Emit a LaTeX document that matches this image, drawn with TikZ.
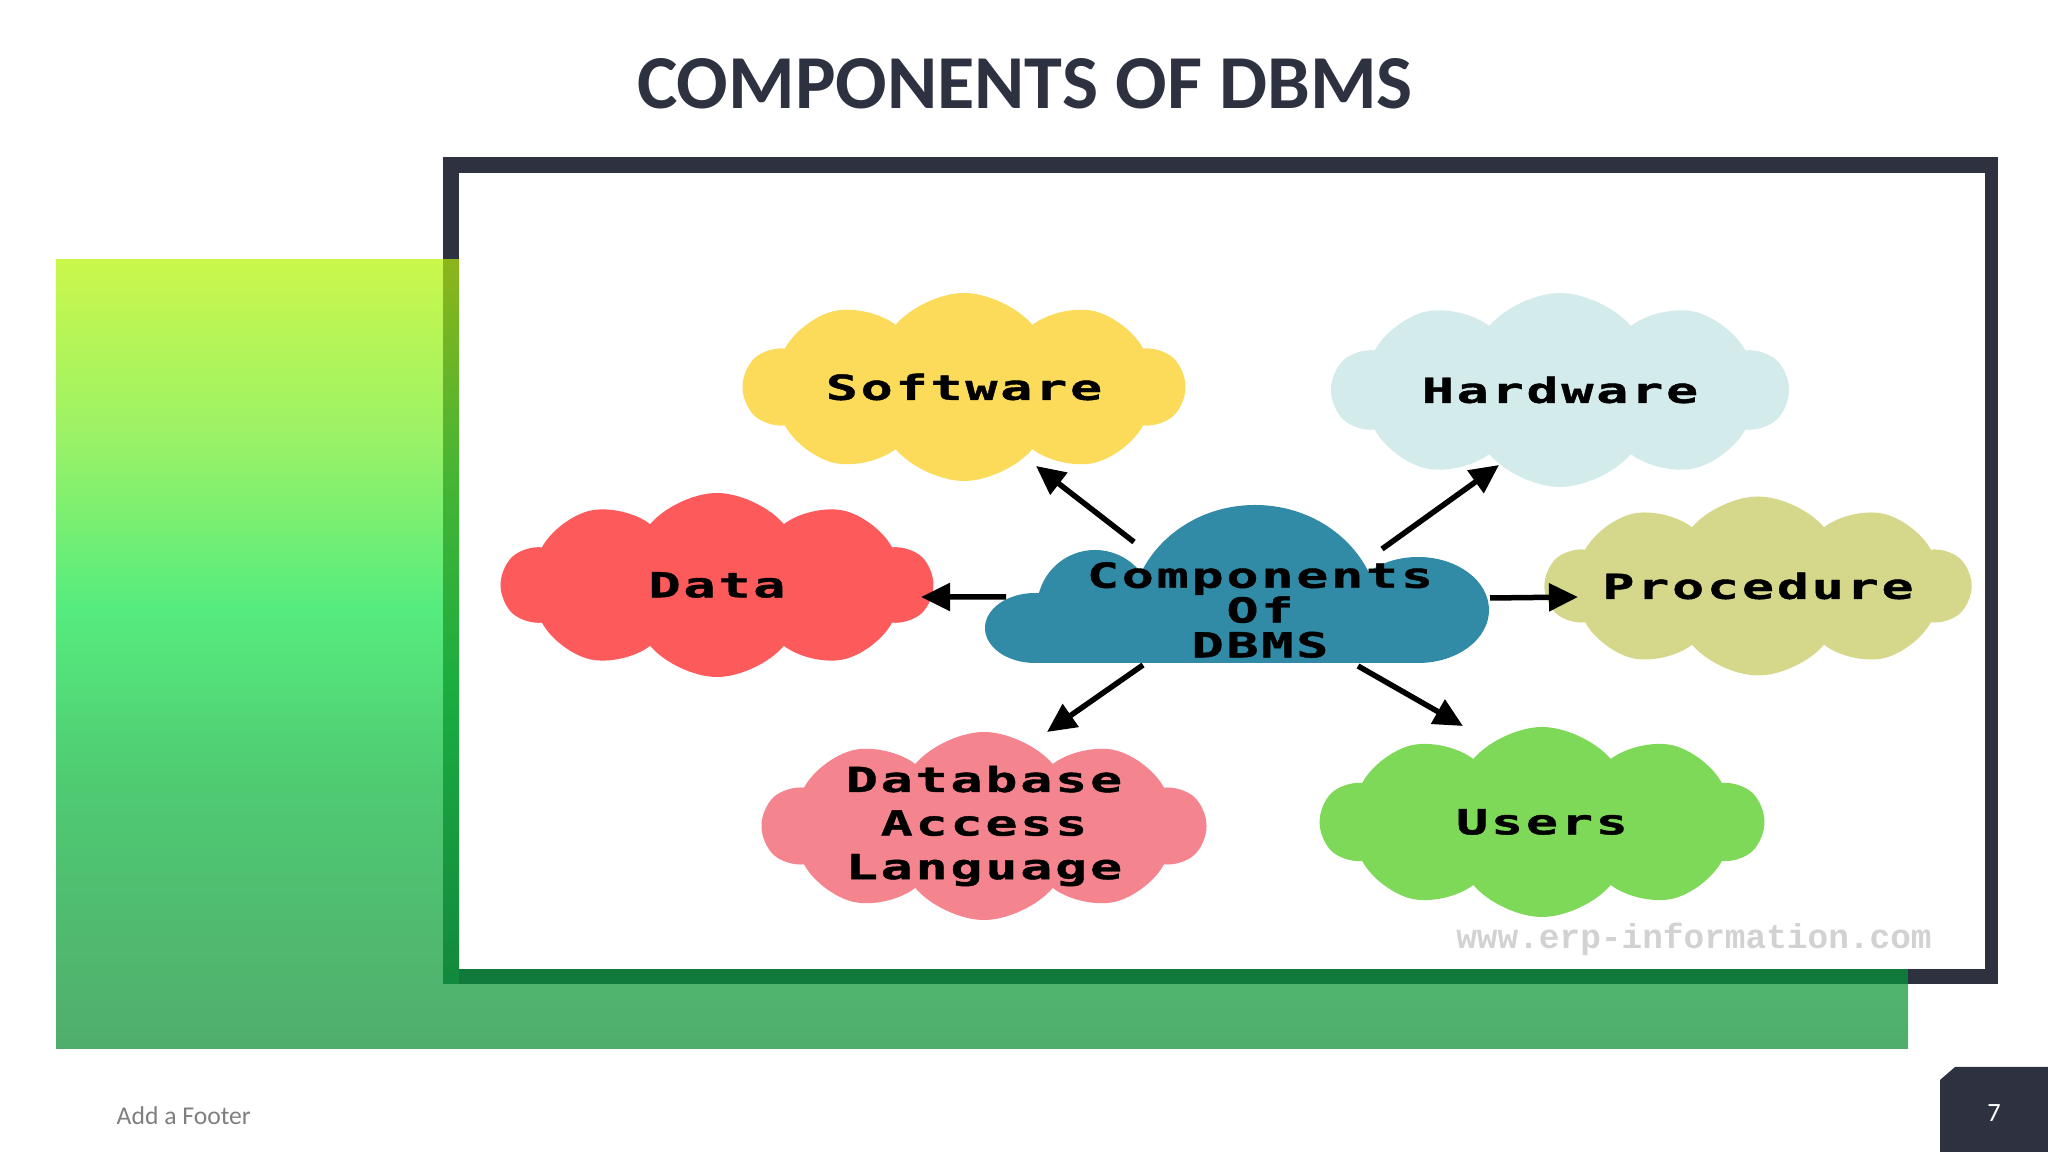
\documentclass[tikz,border=0pt]{standalone}
\usepackage{fontspec}
\setmainfont{Carlito}
\newfontfamily\cloudfont{DejaVu Sans Mono}[FakeStretch=1.55,LetterSpace=8,FakeBold=1.2]
\newfontfamily\wmfont{Liberation Mono}
\usetikzlibrary{arrows.meta, shapes.symbols}

\definecolor{navy}{HTML}{2E3140}
\definecolor{gTop}{HTML}{CAF74B}
\definecolor{gMid}{HTML}{9CF266}
\definecolor{gBright}{HTML}{56EC7E}
\definecolor{gLow}{HTML}{4FCB72}
\definecolor{gBot}{HTML}{50AD6D}
\definecolor{eTop}{HTML}{8CB51B}
\definecolor{eMid}{HTML}{45B534}
\definecolor{eLow}{HTML}{1BAC40}
\definecolor{eBot}{HTML}{12893D}
\definecolor{eDeep}{HTML}{107A3A}
\definecolor{softcol}{HTML}{FCDB5B}
\definecolor{hardcol}{HTML}{D3EBEB}
\definecolor{datacol}{HTML}{FD5A5B}
\definecolor{hubcol}{HTML}{318BA6}
\definecolor{proccol}{HTML}{D5D88A}
\definecolor{dalcol}{HTML}{F4858E}
\definecolor{usercol}{HTML}{7FD958}
\definecolor{footgray}{HTML}{7F7F7F}
\definecolor{wmgray}{HTML}{D2D2D2}

\pgfdeclareverticalshading{greenfade}{100bp}{color(0bp)=(gBot); color(25bp)=(gBot); color(42bp)=(gLow); color(53bp)=(gBright); color(64bp)=(gMid); color(75bp)=(gTop); color(100bp)=(gTop)}
\pgfdeclareverticalshading{edgefade}{100bp}{color(0bp)=(eBot); color(25bp)=(eBot); color(45bp)=(eLow); color(60bp)=(eMid); color(75bp)=(eTop); color(100bp)=(eTop)}

\begin{document}
\begin{tikzpicture}[
  x=0.1mm, y=-0.1mm,
  puff/.style={cloud, cloud puffs=10, cloud puff arc=100, cloud ignores aspect, inner sep=0pt, outer sep=0pt, minimum width=44mm, minimum height=18.8mm, align=center, font=\cloudfont\bfseries\fontsize{9.8}{12.4}\selectfont},
  arr/.style={line width=0.55mm, -{Triangle[length=2.9mm, width=2.7mm]}}
]
\useasboundingbox (0,0) rectangle (2048,1152);
\fill[white] (0,0) rectangle (2048,1152);
% green panel behind the picture
\shade[shading=greenfade] (56,260) rectangle (1908,1049);
% picture frame
\fill[navy] (443,157) rectangle (1998,984);
\fill[white] (459,173) rectangle (1985,969);
\shade[shading=edgefade] (443,260) rectangle (459,984);
\fill[eDeep] (459,969) rectangle (1908,984);

\node[font=\wmfont\bfseries\fontsize{9.8}{12}\selectfont, text=wmgray, inner sep=0pt, anchor=base] (wmark) at (1694,949) {www.erp-information.com};

% clouds
\node[puff, fill=softcol] (soft) at (964,387) {Software};
\node[puff, fill=hardcol, minimum width=45.5mm, minimum height=19.4mm] (hard) at (1560,390) {Hardware};
\node[puff, fill=datacol, minimum width=43mm, minimum height=18.4mm] (data) at (717,585) {Data};
\node[puff, fill=proccol, minimum width=41.7mm, minimum height=17.9mm] (proc) at (1758,586) {Procedure};
\node[puff, fill=dalcol, inner ysep=-2mm, minimum width=44.2mm, minimum height=18.8mm] (dal) at (984,826) {Database\\Access\\Language};
\node[puff, fill=usercol, minimum width=44.2mm, minimum height=19mm] (users) at (1542,822) {Users};

% central cloud
\begin{scope}
  \clip (985,500) rectangle (1490,663);
  \fill[hubcol] (1035,628) ellipse [x radius=50, y radius=35];
  \fill[hubcol] (1095,608) ellipse [x radius=58, y radius=58];
  \fill[hubcol] (1255,620) ellipse [x radius=125, y radius=115];
  \fill[hubcol] (1418,610) ellipse [x radius=71, y radius=53];
  \fill[hubcol] (1035,600) rectangle (1420,663);
\end{scope}
\node[inner sep=0pt, align=center, font=\cloudfont\bfseries\fontsize{9.8}{9.9}\selectfont] (hub) at (1260,610) {Components\\Of\\DBMS};

\draw[arr] ([shift={(-12.6mm,6.8mm)}]hub.center) -- ([shift={(7.2mm,-7.9mm)}]soft.center);
\draw[arr] ([shift={(12.2mm,6.1mm)}]hub.center) -- ([shift={(-6.1mm,-7.5mm)}]hard.center);
\draw[arr] ([shift={(-25.4mm,1.3mm)}]hub.center) -- ([shift={(20.4mm,-1.2mm)}]data.center);
\draw[arr] ([shift={(23mm,1.2mm)}]hub.center) -- ([shift={(-18mm,-1.1mm)}]proc.center);
\draw[arr] ([shift={(-11.7mm,-5.5mm)}]hub.center) -- ([shift={(6.3mm,9.4mm)}]dal.center);
\draw[arr] ([shift={(9.8mm,-5.6mm)}]hub.center) -- ([shift={(-7.9mm,9.6mm)}]users.center);

\node[font=\bfseries\fontsize{21.7}{26}\selectfont, text=navy, inner sep=0pt] (title) at (1025,84) {COMPONENTS OF DBMS};
\node[font=\fontsize{7.3}{9}\selectfont, text=footgray, inner sep=0pt, anchor=base west] (foot) at (116,1125) {Add a Footer};
\fill[navy] (1940,1080) -- (1955,1067) -- (2048,1067) -- (2048,1152) -- (1940,1152) -- cycle;
\node[font=\fontsize{7.5}{9}\selectfont, text=white, inner sep=0pt] (pageno) at (1994,1113) {7};
\end{tikzpicture}
\end{document}
